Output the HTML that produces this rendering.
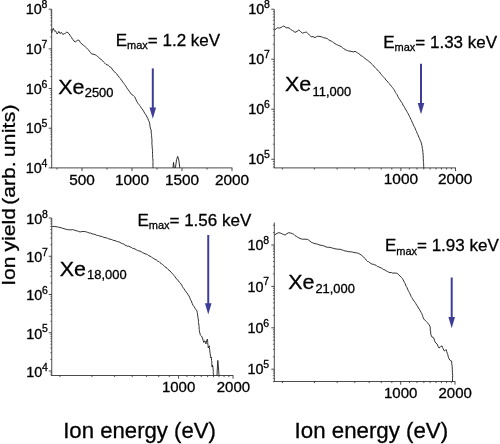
<!DOCTYPE html>
<html><head><meta charset="utf-8"><title>Ion energy spectra</title>
<style>
html,body{margin:0;padding:0;background:#fff;}
svg{display:block;font-family:"Liberation Sans",sans-serif;fill:#000;}
</style></head><body>
<svg width="500" height="444" viewBox="0 0 500 444">
<rect width="500" height="444" fill="#fff"/>
<line x1="51.70" y1="9.20" x2="51.70" y2="167.90" stroke="#2a2a2a" stroke-width="0.85"/>
<line x1="48.70" y1="167.88" x2="51.70" y2="167.88" stroke="#2a2a2a" stroke-width="0.85"/>
<line x1="50.30" y1="155.94" x2="51.70" y2="155.94" stroke="#2a2a2a" stroke-width="0.7"/>
<line x1="50.30" y1="148.95" x2="51.70" y2="148.95" stroke="#2a2a2a" stroke-width="0.7"/>
<line x1="50.30" y1="144.00" x2="51.70" y2="144.00" stroke="#2a2a2a" stroke-width="0.7"/>
<line x1="50.30" y1="140.15" x2="51.70" y2="140.15" stroke="#2a2a2a" stroke-width="0.7"/>
<line x1="50.30" y1="137.01" x2="51.70" y2="137.01" stroke="#2a2a2a" stroke-width="0.7"/>
<line x1="50.30" y1="134.35" x2="51.70" y2="134.35" stroke="#2a2a2a" stroke-width="0.7"/>
<line x1="50.30" y1="132.05" x2="51.70" y2="132.05" stroke="#2a2a2a" stroke-width="0.7"/>
<line x1="50.30" y1="130.03" x2="51.70" y2="130.03" stroke="#2a2a2a" stroke-width="0.7"/>
<line x1="48.70" y1="128.21" x2="51.70" y2="128.21" stroke="#2a2a2a" stroke-width="0.85"/>
<line x1="50.30" y1="116.27" x2="51.70" y2="116.27" stroke="#2a2a2a" stroke-width="0.7"/>
<line x1="50.30" y1="109.28" x2="51.70" y2="109.28" stroke="#2a2a2a" stroke-width="0.7"/>
<line x1="50.30" y1="104.33" x2="51.70" y2="104.33" stroke="#2a2a2a" stroke-width="0.7"/>
<line x1="50.30" y1="100.48" x2="51.70" y2="100.48" stroke="#2a2a2a" stroke-width="0.7"/>
<line x1="50.30" y1="97.34" x2="51.70" y2="97.34" stroke="#2a2a2a" stroke-width="0.7"/>
<line x1="50.30" y1="94.68" x2="51.70" y2="94.68" stroke="#2a2a2a" stroke-width="0.7"/>
<line x1="50.30" y1="92.38" x2="51.70" y2="92.38" stroke="#2a2a2a" stroke-width="0.7"/>
<line x1="50.30" y1="90.36" x2="51.70" y2="90.36" stroke="#2a2a2a" stroke-width="0.7"/>
<line x1="48.70" y1="88.54" x2="51.70" y2="88.54" stroke="#2a2a2a" stroke-width="0.85"/>
<line x1="50.30" y1="76.60" x2="51.70" y2="76.60" stroke="#2a2a2a" stroke-width="0.7"/>
<line x1="50.30" y1="69.61" x2="51.70" y2="69.61" stroke="#2a2a2a" stroke-width="0.7"/>
<line x1="50.30" y1="64.66" x2="51.70" y2="64.66" stroke="#2a2a2a" stroke-width="0.7"/>
<line x1="50.30" y1="60.81" x2="51.70" y2="60.81" stroke="#2a2a2a" stroke-width="0.7"/>
<line x1="50.30" y1="57.67" x2="51.70" y2="57.67" stroke="#2a2a2a" stroke-width="0.7"/>
<line x1="50.30" y1="55.01" x2="51.70" y2="55.01" stroke="#2a2a2a" stroke-width="0.7"/>
<line x1="50.30" y1="52.71" x2="51.70" y2="52.71" stroke="#2a2a2a" stroke-width="0.7"/>
<line x1="50.30" y1="50.69" x2="51.70" y2="50.69" stroke="#2a2a2a" stroke-width="0.7"/>
<line x1="48.70" y1="48.87" x2="51.70" y2="48.87" stroke="#2a2a2a" stroke-width="0.85"/>
<line x1="50.30" y1="36.93" x2="51.70" y2="36.93" stroke="#2a2a2a" stroke-width="0.7"/>
<line x1="50.30" y1="29.94" x2="51.70" y2="29.94" stroke="#2a2a2a" stroke-width="0.7"/>
<line x1="50.30" y1="24.99" x2="51.70" y2="24.99" stroke="#2a2a2a" stroke-width="0.7"/>
<line x1="50.30" y1="21.14" x2="51.70" y2="21.14" stroke="#2a2a2a" stroke-width="0.7"/>
<line x1="50.30" y1="18.00" x2="51.70" y2="18.00" stroke="#2a2a2a" stroke-width="0.7"/>
<line x1="50.30" y1="15.34" x2="51.70" y2="15.34" stroke="#2a2a2a" stroke-width="0.7"/>
<line x1="50.30" y1="13.04" x2="51.70" y2="13.04" stroke="#2a2a2a" stroke-width="0.7"/>
<line x1="50.30" y1="11.02" x2="51.70" y2="11.02" stroke="#2a2a2a" stroke-width="0.7"/>
<line x1="48.70" y1="9.20" x2="51.70" y2="9.20" stroke="#2a2a2a" stroke-width="0.85"/>
<text transform="translate(41.90 14.40) scale(1.03 1)" font-size="14" text-anchor="end" stroke="#000" stroke-width="0.3">10</text>
<text transform="translate(41.60 8.20) scale(1.0 1)" font-size="10.5" text-anchor="start" stroke="#000" stroke-width="0.3">8</text>
<text transform="translate(41.90 54.07) scale(1.03 1)" font-size="14" text-anchor="end" stroke="#000" stroke-width="0.3">10</text>
<text transform="translate(41.60 47.87) scale(1.0 1)" font-size="10.5" text-anchor="start" stroke="#000" stroke-width="0.3">7</text>
<text transform="translate(41.90 93.74) scale(1.03 1)" font-size="14" text-anchor="end" stroke="#000" stroke-width="0.3">10</text>
<text transform="translate(41.60 87.54) scale(1.0 1)" font-size="10.5" text-anchor="start" stroke="#000" stroke-width="0.3">6</text>
<text transform="translate(41.90 133.41) scale(1.03 1)" font-size="14" text-anchor="end" stroke="#000" stroke-width="0.3">10</text>
<text transform="translate(41.60 127.21) scale(1.0 1)" font-size="10.5" text-anchor="start" stroke="#000" stroke-width="0.3">5</text>
<text transform="translate(41.90 173.08) scale(1.03 1)" font-size="14" text-anchor="end" stroke="#000" stroke-width="0.3">10</text>
<text transform="translate(41.60 166.88) scale(1.0 1)" font-size="10.5" text-anchor="start" stroke="#000" stroke-width="0.3">4</text>
<line x1="51.20" y1="167.90" x2="232.30" y2="167.90" stroke="#2a2a2a" stroke-width="0.85"/>
<line x1="57.00" y1="167.90" x2="57.00" y2="169.50" stroke="#2a2a2a" stroke-width="0.85"/>
<line x1="82.00" y1="167.90" x2="82.00" y2="171.10" stroke="#2a2a2a" stroke-width="0.85"/>
<line x1="107.00" y1="167.90" x2="107.00" y2="169.50" stroke="#2a2a2a" stroke-width="0.85"/>
<line x1="132.00" y1="167.90" x2="132.00" y2="171.10" stroke="#2a2a2a" stroke-width="0.85"/>
<line x1="157.00" y1="167.90" x2="157.00" y2="169.50" stroke="#2a2a2a" stroke-width="0.85"/>
<line x1="182.00" y1="167.90" x2="182.00" y2="171.10" stroke="#2a2a2a" stroke-width="0.85"/>
<line x1="207.00" y1="167.90" x2="207.00" y2="169.50" stroke="#2a2a2a" stroke-width="0.85"/>
<line x1="232.00" y1="167.90" x2="232.00" y2="171.10" stroke="#2a2a2a" stroke-width="0.85"/>
<text transform="translate(82.00 184.80) scale(1.025 1)" font-size="15" text-anchor="middle" stroke="#000" stroke-width="0.3">500</text>
<text transform="translate(132.00 184.80) scale(1.025 1)" font-size="15" text-anchor="middle" stroke="#000" stroke-width="0.3">1000</text>
<text transform="translate(182.00 184.80) scale(1.025 1)" font-size="15" text-anchor="middle" stroke="#000" stroke-width="0.3">1500</text>
<text transform="translate(232.00 184.80) scale(1.025 1)" font-size="15" text-anchor="middle" stroke="#000" stroke-width="0.3">2000</text>
<polyline points="51.7,33.0 52.3,30.5 53.3,28.3 54.2,30.7 54.8,31.1 55.6,30.8 56.4,32.5 57.2,34.0 58.0,33.0 58.8,31.4 59.9,33.4 61.5,32.4 62.8,34.4 64.5,33.6 65.7,33.1 66.8,32.0 68.0,32.8 69.2,33.9 70.0,35.3 70.7,36.3 71.5,37.4 72.3,39.0 73.2,39.6 74.0,41.2 75.6,41.8 77.2,40.4 78.8,40.0 79.6,41.2 80.4,42.7 82.0,44.0 83.2,45.1 84.4,46.1 85.6,47.0 86.8,48.2 88.0,49.4 89.2,50.9 90.4,52.3 91.6,53.9 94.0,54.4 95.2,54.8 96.4,55.5 97.6,56.5 98.8,57.5 100.0,58.7 101.2,59.5 102.4,60.5 103.6,62.0 104.8,63.1 106.0,64.4 107.2,64.9 108.4,65.3 109.6,66.7 110.8,67.2 112.0,68.9 113.2,70.6 114.4,71.5 115.6,73.0 116.8,74.0 118.0,75.7 119.2,77.3 120.4,78.6 121.3,80.0 122.1,80.9 123.0,82.3 123.9,83.5 124.7,84.6 125.6,85.8 126.5,87.4 127.5,88.9 128.4,90.0 129.2,91.3 130.0,92.1 130.8,93.7 132.8,95.1 133.8,96.2 134.8,97.0 135.4,98.2 136.0,99.7 136.6,101.2 137.2,102.1 138.0,103.4 138.8,104.3 139.6,105.4 140.4,106.4 141.2,107.9 142.0,108.6 143.0,110.2 144.0,111.9 145.0,113.8 146.0,114.9 146.9,116.9 147.8,118.6 148.5,120.3 149.2,121.8 149.7,123.3 149.8,125.0 150.1,126.5 150.3,128.0 150.9,129.5 151.3,131.0 151.2,132.7 151.5,134.4 151.6,135.9 151.7,137.5 151.9,139.0 152.0,140.7 151.9,142.3 151.9,144.0 152.1,145.6 152.2,147.2 152.3,148.8 152.6,150.4 152.5,151.8 152.5,153.1 152.6,154.5 152.7,155.9 152.5,157.3 152.9,158.6 152.9,160.0 153.0,161.3 153.0,162.6 152.9,163.9 153.0,165.3 152.9,166.6 153.1,167.9" fill="none" stroke="#1a1a1a" stroke-width="0.9" stroke-linejoin="round"/>
<polyline points="173.0,167.9 173.5,162.4 174.2,167.9" fill="none" stroke="#1a1a1a" stroke-width="0.9" stroke-linejoin="round"/>
<polyline points="175.4,167.9 176.6,159.5 177.7,156.4 178.8,160.0 179.8,167.9" fill="none" stroke="#1a1a1a" stroke-width="0.9" stroke-linejoin="round"/>
<line x1="152.80" y1="68.40" x2="152.80" y2="108.50" stroke="#3d3d99" stroke-width="2"/>
<polygon points="149.50,107.50 156.10,107.50 152.80,118.80" fill="#3d3d99"/>
<text x="115.7" y="46.1" font-size="17" stroke="#000" stroke-width="0.3">E<tspan font-size="11" dy="3.2">max</tspan><tspan dy="-3.2">= 1.2 keV</tspan></text>
<text transform="translate(58.2 93.5) scale(1.09 1)" font-size="19.7" stroke="#000" stroke-width="0.3">Xe</text>
<text transform="translate(84.7 97.0) scale(1.06 1)" font-size="12.2" stroke="#000" stroke-width="0.3">2500</text>
<line x1="274.25" y1="9.25" x2="274.25" y2="167.90" stroke="#2a2a2a" stroke-width="0.85"/>
<line x1="272.85" y1="167.00" x2="274.25" y2="167.00" stroke="#2a2a2a" stroke-width="0.7"/>
<line x1="272.85" y1="164.10" x2="274.25" y2="164.10" stroke="#2a2a2a" stroke-width="0.7"/>
<line x1="272.85" y1="161.54" x2="274.25" y2="161.54" stroke="#2a2a2a" stroke-width="0.7"/>
<line x1="271.25" y1="159.25" x2="274.25" y2="159.25" stroke="#2a2a2a" stroke-width="0.85"/>
<line x1="272.85" y1="144.20" x2="274.25" y2="144.20" stroke="#2a2a2a" stroke-width="0.7"/>
<line x1="272.85" y1="135.39" x2="274.25" y2="135.39" stroke="#2a2a2a" stroke-width="0.7"/>
<line x1="272.85" y1="129.15" x2="274.25" y2="129.15" stroke="#2a2a2a" stroke-width="0.7"/>
<line x1="272.85" y1="124.30" x2="274.25" y2="124.30" stroke="#2a2a2a" stroke-width="0.7"/>
<line x1="272.85" y1="120.34" x2="274.25" y2="120.34" stroke="#2a2a2a" stroke-width="0.7"/>
<line x1="272.85" y1="117.00" x2="274.25" y2="117.00" stroke="#2a2a2a" stroke-width="0.7"/>
<line x1="272.85" y1="114.10" x2="274.25" y2="114.10" stroke="#2a2a2a" stroke-width="0.7"/>
<line x1="272.85" y1="111.54" x2="274.25" y2="111.54" stroke="#2a2a2a" stroke-width="0.7"/>
<line x1="271.25" y1="109.25" x2="274.25" y2="109.25" stroke="#2a2a2a" stroke-width="0.85"/>
<line x1="272.85" y1="94.20" x2="274.25" y2="94.20" stroke="#2a2a2a" stroke-width="0.7"/>
<line x1="272.85" y1="85.39" x2="274.25" y2="85.39" stroke="#2a2a2a" stroke-width="0.7"/>
<line x1="272.85" y1="79.15" x2="274.25" y2="79.15" stroke="#2a2a2a" stroke-width="0.7"/>
<line x1="272.85" y1="74.30" x2="274.25" y2="74.30" stroke="#2a2a2a" stroke-width="0.7"/>
<line x1="272.85" y1="70.34" x2="274.25" y2="70.34" stroke="#2a2a2a" stroke-width="0.7"/>
<line x1="272.85" y1="67.00" x2="274.25" y2="67.00" stroke="#2a2a2a" stroke-width="0.7"/>
<line x1="272.85" y1="64.10" x2="274.25" y2="64.10" stroke="#2a2a2a" stroke-width="0.7"/>
<line x1="272.85" y1="61.54" x2="274.25" y2="61.54" stroke="#2a2a2a" stroke-width="0.7"/>
<line x1="271.25" y1="59.25" x2="274.25" y2="59.25" stroke="#2a2a2a" stroke-width="0.85"/>
<line x1="272.85" y1="44.20" x2="274.25" y2="44.20" stroke="#2a2a2a" stroke-width="0.7"/>
<line x1="272.85" y1="35.39" x2="274.25" y2="35.39" stroke="#2a2a2a" stroke-width="0.7"/>
<line x1="272.85" y1="29.15" x2="274.25" y2="29.15" stroke="#2a2a2a" stroke-width="0.7"/>
<line x1="272.85" y1="24.30" x2="274.25" y2="24.30" stroke="#2a2a2a" stroke-width="0.7"/>
<line x1="272.85" y1="20.34" x2="274.25" y2="20.34" stroke="#2a2a2a" stroke-width="0.7"/>
<line x1="272.85" y1="17.00" x2="274.25" y2="17.00" stroke="#2a2a2a" stroke-width="0.7"/>
<line x1="272.85" y1="14.10" x2="274.25" y2="14.10" stroke="#2a2a2a" stroke-width="0.7"/>
<line x1="272.85" y1="11.54" x2="274.25" y2="11.54" stroke="#2a2a2a" stroke-width="0.7"/>
<line x1="271.25" y1="9.25" x2="274.25" y2="9.25" stroke="#2a2a2a" stroke-width="0.85"/>
<text transform="translate(264.20 14.45) scale(1.03 1)" font-size="14" text-anchor="end" stroke="#000" stroke-width="0.3">10</text>
<text transform="translate(263.90 8.25) scale(1.0 1)" font-size="10.5" text-anchor="start" stroke="#000" stroke-width="0.3">8</text>
<text transform="translate(264.20 64.45) scale(1.03 1)" font-size="14" text-anchor="end" stroke="#000" stroke-width="0.3">10</text>
<text transform="translate(263.90 58.25) scale(1.0 1)" font-size="10.5" text-anchor="start" stroke="#000" stroke-width="0.3">7</text>
<text transform="translate(264.20 114.45) scale(1.03 1)" font-size="14" text-anchor="end" stroke="#000" stroke-width="0.3">10</text>
<text transform="translate(263.90 108.25) scale(1.0 1)" font-size="10.5" text-anchor="start" stroke="#000" stroke-width="0.3">6</text>
<text transform="translate(264.20 164.45) scale(1.03 1)" font-size="14" text-anchor="end" stroke="#000" stroke-width="0.3">10</text>
<text transform="translate(263.90 158.25) scale(1.0 1)" font-size="10.5" text-anchor="start" stroke="#000" stroke-width="0.3">5</text>
<line x1="273.75" y1="167.90" x2="455.80" y2="167.90" stroke="#2a2a2a" stroke-width="0.85"/>
<line x1="282.40" y1="167.90" x2="282.40" y2="169.50" stroke="#2a2a2a" stroke-width="0.8"/>
<line x1="314.40" y1="167.90" x2="314.40" y2="169.50" stroke="#2a2a2a" stroke-width="0.8"/>
<line x1="337.10" y1="167.90" x2="337.10" y2="169.50" stroke="#2a2a2a" stroke-width="0.8"/>
<line x1="354.70" y1="167.90" x2="354.70" y2="169.50" stroke="#2a2a2a" stroke-width="0.8"/>
<line x1="369.10" y1="167.90" x2="369.10" y2="169.50" stroke="#2a2a2a" stroke-width="0.8"/>
<line x1="381.25" y1="167.90" x2="381.25" y2="169.50" stroke="#2a2a2a" stroke-width="0.8"/>
<line x1="391.80" y1="167.90" x2="391.80" y2="169.50" stroke="#2a2a2a" stroke-width="0.8"/>
<line x1="409.40" y1="167.90" x2="409.40" y2="169.50" stroke="#2a2a2a" stroke-width="0.8"/>
<line x1="416.95" y1="167.90" x2="416.95" y2="169.50" stroke="#2a2a2a" stroke-width="0.8"/>
<line x1="423.80" y1="167.90" x2="423.80" y2="169.50" stroke="#2a2a2a" stroke-width="0.8"/>
<line x1="430.10" y1="167.90" x2="430.10" y2="169.50" stroke="#2a2a2a" stroke-width="0.8"/>
<line x1="436.00" y1="167.90" x2="436.00" y2="169.50" stroke="#2a2a2a" stroke-width="0.8"/>
<line x1="441.45" y1="167.90" x2="441.45" y2="169.50" stroke="#2a2a2a" stroke-width="0.8"/>
<line x1="446.55" y1="167.90" x2="446.55" y2="169.50" stroke="#2a2a2a" stroke-width="0.8"/>
<line x1="451.35" y1="167.90" x2="451.35" y2="169.50" stroke="#2a2a2a" stroke-width="0.8"/>
<line x1="400.90" y1="167.90" x2="400.90" y2="171.10" stroke="#2a2a2a" stroke-width="0.85"/>
<line x1="455.50" y1="167.90" x2="455.50" y2="171.10" stroke="#2a2a2a" stroke-width="0.85"/>
<text transform="translate(400.90 183.90) scale(1.03 1)" font-size="15" text-anchor="middle" stroke="#000" stroke-width="0.3">1000</text>
<text transform="translate(455.20 183.90) scale(1.03 1)" font-size="15" text-anchor="middle" stroke="#000" stroke-width="0.3">2000</text>
<polyline points="274.4,30.4 275.0,29.7 276.2,28.7 277.5,27.8 279.5,28.0 281.2,27.4 282.5,26.6 283.8,26.0 285.0,26.9 286.2,27.8 288.0,27.7 290.0,28.5 291.2,29.8 292.5,30.6 293.8,31.3 295.0,32.4 297.0,31.4 298.8,29.9 300.5,31.6 302.5,33.2 304.4,32.5 306.2,32.0 307.5,33.2 308.8,34.3 310.0,35.5 311.2,36.9 313.0,36.5 315.0,37.7 316.2,36.8 317.5,36.3 320.0,36.5 321.3,36.8 322.5,37.1 323.8,37.8 325.6,38.0 327.5,38.8 328.7,39.8 330.0,40.5 331.2,41.1 332.5,41.8 333.7,42.8 335.0,43.6 336.3,44.5 337.5,44.9 338.8,45.6 340.0,46.0 341.3,46.6 342.5,47.7 343.7,48.6 345.0,49.4 346.2,50.2 347.5,50.6 348.7,51.0 350.0,51.1 351.9,51.6 353.8,51.9 355.0,51.3 356.2,52.0 357.5,52.9 358.8,53.7 360.0,54.7 361.2,55.7 362.5,56.2 363.7,57.5 365.0,58.5 366.2,59.5 367.5,60.2 368.7,61.2 370.0,62.3 371.3,63.5 372.5,64.7 373.8,66.1 374.7,67.2 375.6,68.2 376.6,69.0 377.5,70.1 378.4,71.2 379.4,71.9 380.3,73.2 381.2,74.4 382.1,75.5 383.1,76.6 384.1,77.6 385.0,78.6 385.9,80.0 386.9,80.8 387.9,82.1 388.8,83.3 389.7,84.1 390.6,85.2 391.6,86.6 392.5,87.6 393.2,88.5 394.0,89.6 394.7,90.8 395.5,92.5 396.2,93.6 397.0,94.5 397.7,96.2 398.5,97.6 399.2,98.8 400.0,99.9 400.8,101.2 401.5,102.2 402.3,103.3 403.0,105.1 403.8,106.1 404.5,107.3 405.3,108.9 406.0,109.9 406.8,111.4 407.5,112.7 408.2,113.7 408.9,115.1 409.5,116.5 410.2,117.8 410.9,119.4 411.5,120.6 412.1,122.1 412.8,123.3 413.4,125.1 414.1,126.2 414.8,127.6 415.4,129.1 416.0,130.6 416.6,131.7 417.2,133.4 417.8,134.5 418.4,136.0 419.0,137.5 419.6,138.7 420.4,140.7 421.2,142.3 421.4,144.0 422.0,145.5 422.1,147.0 422.4,148.4 422.7,149.8 422.8,151.1 422.9,152.5 423.1,154.0 423.2,155.5 423.3,157.0 423.2,158.5 423.4,160.0 423.4,161.3 423.4,162.6 423.7,163.9 423.6,165.3 423.7,166.6 423.8,167.9" fill="none" stroke="#1a1a1a" stroke-width="0.9" stroke-linejoin="round"/>
<line x1="421.00" y1="63.75" x2="421.00" y2="104.00" stroke="#3d3d99" stroke-width="2"/>
<polygon points="417.70,103.00 424.30,103.00 421.00,114.30" fill="#3d3d99"/>
<text x="383.2" y="47.8" font-size="17" stroke="#000" stroke-width="0.3">E<tspan font-size="11" dy="3.2">max</tspan><tspan dy="-3.2">= 1.33 keV</tspan></text>
<text transform="translate(285 91.4) scale(1.09 1)" font-size="19.7" stroke="#000" stroke-width="0.3">Xe</text>
<text transform="translate(312.6 95.5) scale(1.06 1)" font-size="12.2" stroke="#000" stroke-width="0.3">11,000</text>
<line x1="51.75" y1="218.00" x2="51.75" y2="375.50" stroke="#2a2a2a" stroke-width="0.85"/>
<line x1="50.35" y1="374.71" x2="51.75" y2="374.71" stroke="#2a2a2a" stroke-width="0.7"/>
<line x1="50.35" y1="372.75" x2="51.75" y2="372.75" stroke="#2a2a2a" stroke-width="0.7"/>
<line x1="48.75" y1="371.00" x2="51.75" y2="371.00" stroke="#2a2a2a" stroke-width="0.85"/>
<line x1="50.35" y1="359.49" x2="51.75" y2="359.49" stroke="#2a2a2a" stroke-width="0.7"/>
<line x1="50.35" y1="352.75" x2="51.75" y2="352.75" stroke="#2a2a2a" stroke-width="0.7"/>
<line x1="50.35" y1="347.97" x2="51.75" y2="347.97" stroke="#2a2a2a" stroke-width="0.7"/>
<line x1="50.35" y1="344.26" x2="51.75" y2="344.26" stroke="#2a2a2a" stroke-width="0.7"/>
<line x1="50.35" y1="341.24" x2="51.75" y2="341.24" stroke="#2a2a2a" stroke-width="0.7"/>
<line x1="50.35" y1="338.67" x2="51.75" y2="338.67" stroke="#2a2a2a" stroke-width="0.7"/>
<line x1="50.35" y1="336.46" x2="51.75" y2="336.46" stroke="#2a2a2a" stroke-width="0.7"/>
<line x1="50.35" y1="334.50" x2="51.75" y2="334.50" stroke="#2a2a2a" stroke-width="0.7"/>
<line x1="48.75" y1="332.75" x2="51.75" y2="332.75" stroke="#2a2a2a" stroke-width="0.85"/>
<line x1="50.35" y1="321.24" x2="51.75" y2="321.24" stroke="#2a2a2a" stroke-width="0.7"/>
<line x1="50.35" y1="314.50" x2="51.75" y2="314.50" stroke="#2a2a2a" stroke-width="0.7"/>
<line x1="50.35" y1="309.72" x2="51.75" y2="309.72" stroke="#2a2a2a" stroke-width="0.7"/>
<line x1="50.35" y1="306.01" x2="51.75" y2="306.01" stroke="#2a2a2a" stroke-width="0.7"/>
<line x1="50.35" y1="302.99" x2="51.75" y2="302.99" stroke="#2a2a2a" stroke-width="0.7"/>
<line x1="50.35" y1="300.42" x2="51.75" y2="300.42" stroke="#2a2a2a" stroke-width="0.7"/>
<line x1="50.35" y1="298.21" x2="51.75" y2="298.21" stroke="#2a2a2a" stroke-width="0.7"/>
<line x1="50.35" y1="296.25" x2="51.75" y2="296.25" stroke="#2a2a2a" stroke-width="0.7"/>
<line x1="48.75" y1="294.50" x2="51.75" y2="294.50" stroke="#2a2a2a" stroke-width="0.85"/>
<line x1="50.35" y1="282.99" x2="51.75" y2="282.99" stroke="#2a2a2a" stroke-width="0.7"/>
<line x1="50.35" y1="276.25" x2="51.75" y2="276.25" stroke="#2a2a2a" stroke-width="0.7"/>
<line x1="50.35" y1="271.47" x2="51.75" y2="271.47" stroke="#2a2a2a" stroke-width="0.7"/>
<line x1="50.35" y1="267.76" x2="51.75" y2="267.76" stroke="#2a2a2a" stroke-width="0.7"/>
<line x1="50.35" y1="264.74" x2="51.75" y2="264.74" stroke="#2a2a2a" stroke-width="0.7"/>
<line x1="50.35" y1="262.17" x2="51.75" y2="262.17" stroke="#2a2a2a" stroke-width="0.7"/>
<line x1="50.35" y1="259.96" x2="51.75" y2="259.96" stroke="#2a2a2a" stroke-width="0.7"/>
<line x1="50.35" y1="258.00" x2="51.75" y2="258.00" stroke="#2a2a2a" stroke-width="0.7"/>
<line x1="48.75" y1="256.25" x2="51.75" y2="256.25" stroke="#2a2a2a" stroke-width="0.85"/>
<line x1="50.35" y1="244.74" x2="51.75" y2="244.74" stroke="#2a2a2a" stroke-width="0.7"/>
<line x1="50.35" y1="238.00" x2="51.75" y2="238.00" stroke="#2a2a2a" stroke-width="0.7"/>
<line x1="50.35" y1="233.22" x2="51.75" y2="233.22" stroke="#2a2a2a" stroke-width="0.7"/>
<line x1="50.35" y1="229.51" x2="51.75" y2="229.51" stroke="#2a2a2a" stroke-width="0.7"/>
<line x1="50.35" y1="226.49" x2="51.75" y2="226.49" stroke="#2a2a2a" stroke-width="0.7"/>
<line x1="50.35" y1="223.92" x2="51.75" y2="223.92" stroke="#2a2a2a" stroke-width="0.7"/>
<line x1="50.35" y1="221.71" x2="51.75" y2="221.71" stroke="#2a2a2a" stroke-width="0.7"/>
<line x1="50.35" y1="219.75" x2="51.75" y2="219.75" stroke="#2a2a2a" stroke-width="0.7"/>
<line x1="48.75" y1="218.00" x2="51.75" y2="218.00" stroke="#2a2a2a" stroke-width="0.85"/>
<text transform="translate(42.40 223.90) scale(1.03 1)" font-size="14" text-anchor="end" stroke="#000" stroke-width="0.3">10</text>
<text transform="translate(42.10 217.70) scale(1.0 1)" font-size="10.5" text-anchor="start" stroke="#000" stroke-width="0.3">8</text>
<text transform="translate(42.40 262.15) scale(1.03 1)" font-size="14" text-anchor="end" stroke="#000" stroke-width="0.3">10</text>
<text transform="translate(42.10 255.95) scale(1.0 1)" font-size="10.5" text-anchor="start" stroke="#000" stroke-width="0.3">7</text>
<text transform="translate(42.40 300.40) scale(1.03 1)" font-size="14" text-anchor="end" stroke="#000" stroke-width="0.3">10</text>
<text transform="translate(42.10 294.20) scale(1.0 1)" font-size="10.5" text-anchor="start" stroke="#000" stroke-width="0.3">6</text>
<text transform="translate(42.40 338.65) scale(1.03 1)" font-size="14" text-anchor="end" stroke="#000" stroke-width="0.3">10</text>
<text transform="translate(42.10 332.45) scale(1.0 1)" font-size="10.5" text-anchor="start" stroke="#000" stroke-width="0.3">5</text>
<text transform="translate(42.40 376.90) scale(1.03 1)" font-size="14" text-anchor="end" stroke="#000" stroke-width="0.3">10</text>
<text transform="translate(42.10 370.70) scale(1.0 1)" font-size="10.5" text-anchor="start" stroke="#000" stroke-width="0.3">4</text>
<line x1="51.25" y1="375.50" x2="233.30" y2="375.50" stroke="#2a2a2a" stroke-width="0.85"/>
<line x1="59.90" y1="375.50" x2="59.90" y2="377.10" stroke="#2a2a2a" stroke-width="0.8"/>
<line x1="91.90" y1="375.50" x2="91.90" y2="377.10" stroke="#2a2a2a" stroke-width="0.8"/>
<line x1="114.60" y1="375.50" x2="114.60" y2="377.10" stroke="#2a2a2a" stroke-width="0.8"/>
<line x1="132.20" y1="375.50" x2="132.20" y2="377.10" stroke="#2a2a2a" stroke-width="0.8"/>
<line x1="146.60" y1="375.50" x2="146.60" y2="377.10" stroke="#2a2a2a" stroke-width="0.8"/>
<line x1="158.75" y1="375.50" x2="158.75" y2="377.10" stroke="#2a2a2a" stroke-width="0.8"/>
<line x1="169.30" y1="375.50" x2="169.30" y2="377.10" stroke="#2a2a2a" stroke-width="0.8"/>
<line x1="186.90" y1="375.50" x2="186.90" y2="377.10" stroke="#2a2a2a" stroke-width="0.8"/>
<line x1="194.45" y1="375.50" x2="194.45" y2="377.10" stroke="#2a2a2a" stroke-width="0.8"/>
<line x1="201.30" y1="375.50" x2="201.30" y2="377.10" stroke="#2a2a2a" stroke-width="0.8"/>
<line x1="207.60" y1="375.50" x2="207.60" y2="377.10" stroke="#2a2a2a" stroke-width="0.8"/>
<line x1="213.50" y1="375.50" x2="213.50" y2="377.10" stroke="#2a2a2a" stroke-width="0.8"/>
<line x1="218.95" y1="375.50" x2="218.95" y2="377.10" stroke="#2a2a2a" stroke-width="0.8"/>
<line x1="224.05" y1="375.50" x2="224.05" y2="377.10" stroke="#2a2a2a" stroke-width="0.8"/>
<line x1="228.85" y1="375.50" x2="228.85" y2="377.10" stroke="#2a2a2a" stroke-width="0.8"/>
<line x1="178.60" y1="375.50" x2="178.60" y2="378.70" stroke="#2a2a2a" stroke-width="0.85"/>
<line x1="233.00" y1="375.50" x2="233.00" y2="378.70" stroke="#2a2a2a" stroke-width="0.85"/>
<text transform="translate(178.60 391.60) scale(1.0 1)" font-size="15" text-anchor="middle" stroke="#000" stroke-width="0.3">1000</text>
<text transform="translate(233.40 391.60) scale(1.0 1)" font-size="15" text-anchor="middle" stroke="#000" stroke-width="0.3">2000</text>
<polyline points="51.9,226.1 52.5,226.5 54.2,226.4 56.0,226.7 57.3,226.9 58.7,227.2 60.0,227.6 61.3,227.8 62.7,228.3 64.0,228.6 65.8,229.3 67.5,229.6 69.2,229.8 71.0,229.9 72.3,229.6 73.7,229.9 75.0,230.3 76.2,230.8 77.5,231.0 78.8,231.4 80.0,232.0 81.5,231.6 83.0,231.5 84.6,231.5 86.2,231.9 87.7,232.4 89.1,233.0 90.5,233.0 92.0,233.8 93.5,234.2 95.0,234.3 96.2,235.1 97.5,235.5 98.8,235.5 100.0,236.3 101.2,236.3 102.5,236.7 103.8,237.4 105.0,237.7 106.2,237.7 107.5,238.3 108.8,238.8 110.0,239.2 111.2,239.4 112.5,239.9 113.8,240.5 115.0,240.5 116.2,241.2 117.5,241.6 118.8,241.8 120.0,242.4 121.2,243.2 122.5,243.7 123.8,244.0 125.0,245.2 126.2,245.6 127.5,246.2 128.8,246.2 130.0,246.9 131.2,247.3 132.5,248.3 133.8,248.5 135.0,249.0 136.2,249.7 137.5,250.5 138.8,250.9 140.0,251.1 141.2,251.7 142.5,252.7 143.8,253.1 145.0,253.8 146.2,254.1 147.5,254.7 148.8,255.7 150.0,256.2 151.2,256.7 152.5,258.0 153.8,258.5 155.0,259.4 156.2,259.8 157.5,261.1 158.8,261.4 160.0,262.7 161.2,263.5 162.5,264.5 163.8,265.6 165.0,266.9 166.0,267.4 167.0,268.2 168.0,269.4 169.0,270.2 170.0,271.0 171.0,272.1 172.0,273.2 173.0,274.3 174.0,275.5 174.9,276.6 175.8,278.0 176.6,278.8 177.5,280.0 178.4,280.9 179.2,282.0 180.1,282.9 181.0,284.1 181.8,285.1 182.5,286.7 183.2,287.8 184.0,288.8 185.0,290.3 186.0,291.9 187.0,292.8 188.0,294.7 189.0,296.0 189.7,297.5 190.3,299.2 191.0,300.4 191.7,302.0 192.3,303.6 193.0,305.3 194.0,306.4 195.0,308.2 196.0,309.6 197.0,311.1 197.2,312.3 197.5,313.7 197.6,315.0 197.9,316.7 198.0,318.3 198.5,320.0 198.4,321.3 198.5,322.7 198.7,324.0 199.0,325.3 199.1,326.7 199.1,328.0 199.2,329.3 199.4,330.7 199.6,332.0 200.0,333.5 200.3,335.0 201.5,336.0 202.4,337.9 203.2,340.5 203.8,342.4 204.3,341.2 205.0,340.8 205.5,342.8 206.0,343.9 206.3,342.5 206.6,341.0 207.4,339.0 207.6,340.7 207.7,342.3 207.8,344.0 208.1,345.3 208.1,346.7 208.3,348.0 208.9,346.3 209.4,345.9 209.4,347.5 209.5,349.0 209.8,350.5 209.9,352.0 210.2,353.5 210.3,355.0 210.5,356.5 210.7,358.0 211.0,357.3 211.4,357.2 211.5,358.7 211.5,360.3 211.9,362.0 211.7,363.7 212.0,365.3 212.1,367.0 212.1,365.6 212.6,365.2 212.9,366.7 213.0,368.3 213.2,370.0 213.3,371.4 213.2,372.8 213.5,374.1 213.6,375.5" fill="none" stroke="#1a1a1a" stroke-width="0.9" stroke-linejoin="round"/>
<polyline points="217.0,375.5 217.4,367.0 217.8,360.4 218.4,367.0 219.0,375.5" fill="none" stroke="#1a1a1a" stroke-width="0.9" stroke-linejoin="round"/>
<line x1="208.25" y1="235.00" x2="208.25" y2="304.20" stroke="#3d3d99" stroke-width="2"/>
<polygon points="204.95,303.20 211.55,303.20 208.25,314.50" fill="#3d3d99"/>
<text x="137.4" y="226.1" font-size="17" stroke="#000" stroke-width="0.3">E<tspan font-size="11" dy="3.2">max</tspan><tspan dy="-3.2">= 1.56 keV</tspan></text>
<text transform="translate(59.8 275.5) scale(1.09 1)" font-size="19.7" stroke="#000" stroke-width="0.3">Xe</text>
<text transform="translate(87.1 279.4) scale(1.06 1)" font-size="12.2" stroke="#000" stroke-width="0.3">18,000</text>
<line x1="274.30" y1="222.50" x2="274.30" y2="381.50" stroke="#2a2a2a" stroke-width="0.85"/>
<line x1="272.90" y1="381.66" x2="274.30" y2="381.66" stroke="#2a2a2a" stroke-width="0.7"/>
<line x1="272.90" y1="378.38" x2="274.30" y2="378.38" stroke="#2a2a2a" stroke-width="0.7"/>
<line x1="272.90" y1="375.61" x2="274.30" y2="375.61" stroke="#2a2a2a" stroke-width="0.7"/>
<line x1="272.90" y1="373.21" x2="274.30" y2="373.21" stroke="#2a2a2a" stroke-width="0.7"/>
<line x1="272.90" y1="371.09" x2="274.30" y2="371.09" stroke="#2a2a2a" stroke-width="0.7"/>
<line x1="271.30" y1="369.20" x2="274.30" y2="369.20" stroke="#2a2a2a" stroke-width="0.85"/>
<line x1="272.90" y1="356.74" x2="274.30" y2="356.74" stroke="#2a2a2a" stroke-width="0.7"/>
<line x1="272.90" y1="349.45" x2="274.30" y2="349.45" stroke="#2a2a2a" stroke-width="0.7"/>
<line x1="272.90" y1="344.27" x2="274.30" y2="344.27" stroke="#2a2a2a" stroke-width="0.7"/>
<line x1="272.90" y1="340.26" x2="274.30" y2="340.26" stroke="#2a2a2a" stroke-width="0.7"/>
<line x1="272.90" y1="336.98" x2="274.30" y2="336.98" stroke="#2a2a2a" stroke-width="0.7"/>
<line x1="272.90" y1="334.21" x2="274.30" y2="334.21" stroke="#2a2a2a" stroke-width="0.7"/>
<line x1="272.90" y1="331.81" x2="274.30" y2="331.81" stroke="#2a2a2a" stroke-width="0.7"/>
<line x1="272.90" y1="329.69" x2="274.30" y2="329.69" stroke="#2a2a2a" stroke-width="0.7"/>
<line x1="271.30" y1="327.80" x2="274.30" y2="327.80" stroke="#2a2a2a" stroke-width="0.85"/>
<line x1="272.90" y1="315.34" x2="274.30" y2="315.34" stroke="#2a2a2a" stroke-width="0.7"/>
<line x1="272.90" y1="308.05" x2="274.30" y2="308.05" stroke="#2a2a2a" stroke-width="0.7"/>
<line x1="272.90" y1="302.87" x2="274.30" y2="302.87" stroke="#2a2a2a" stroke-width="0.7"/>
<line x1="272.90" y1="298.86" x2="274.30" y2="298.86" stroke="#2a2a2a" stroke-width="0.7"/>
<line x1="272.90" y1="295.58" x2="274.30" y2="295.58" stroke="#2a2a2a" stroke-width="0.7"/>
<line x1="272.90" y1="292.81" x2="274.30" y2="292.81" stroke="#2a2a2a" stroke-width="0.7"/>
<line x1="272.90" y1="290.41" x2="274.30" y2="290.41" stroke="#2a2a2a" stroke-width="0.7"/>
<line x1="272.90" y1="288.29" x2="274.30" y2="288.29" stroke="#2a2a2a" stroke-width="0.7"/>
<line x1="271.30" y1="286.40" x2="274.30" y2="286.40" stroke="#2a2a2a" stroke-width="0.85"/>
<line x1="272.90" y1="273.94" x2="274.30" y2="273.94" stroke="#2a2a2a" stroke-width="0.7"/>
<line x1="272.90" y1="266.65" x2="274.30" y2="266.65" stroke="#2a2a2a" stroke-width="0.7"/>
<line x1="272.90" y1="261.47" x2="274.30" y2="261.47" stroke="#2a2a2a" stroke-width="0.7"/>
<line x1="272.90" y1="257.46" x2="274.30" y2="257.46" stroke="#2a2a2a" stroke-width="0.7"/>
<line x1="272.90" y1="254.18" x2="274.30" y2="254.18" stroke="#2a2a2a" stroke-width="0.7"/>
<line x1="272.90" y1="251.41" x2="274.30" y2="251.41" stroke="#2a2a2a" stroke-width="0.7"/>
<line x1="272.90" y1="249.01" x2="274.30" y2="249.01" stroke="#2a2a2a" stroke-width="0.7"/>
<line x1="272.90" y1="246.89" x2="274.30" y2="246.89" stroke="#2a2a2a" stroke-width="0.7"/>
<line x1="271.30" y1="245.00" x2="274.30" y2="245.00" stroke="#2a2a2a" stroke-width="0.85"/>
<line x1="272.90" y1="232.54" x2="274.30" y2="232.54" stroke="#2a2a2a" stroke-width="0.7"/>
<line x1="272.90" y1="225.25" x2="274.30" y2="225.25" stroke="#2a2a2a" stroke-width="0.7"/>
<text transform="translate(263.60 250.20) scale(1.03 1)" font-size="14" text-anchor="end" stroke="#000" stroke-width="0.3">10</text>
<text transform="translate(263.30 244.00) scale(1.0 1)" font-size="10.5" text-anchor="start" stroke="#000" stroke-width="0.3">8</text>
<text transform="translate(263.60 291.60) scale(1.03 1)" font-size="14" text-anchor="end" stroke="#000" stroke-width="0.3">10</text>
<text transform="translate(263.30 285.40) scale(1.0 1)" font-size="10.5" text-anchor="start" stroke="#000" stroke-width="0.3">7</text>
<text transform="translate(263.60 333.00) scale(1.03 1)" font-size="14" text-anchor="end" stroke="#000" stroke-width="0.3">10</text>
<text transform="translate(263.30 326.80) scale(1.0 1)" font-size="10.5" text-anchor="start" stroke="#000" stroke-width="0.3">6</text>
<text transform="translate(263.60 374.40) scale(1.03 1)" font-size="14" text-anchor="end" stroke="#000" stroke-width="0.3">10</text>
<text transform="translate(263.30 368.20) scale(1.0 1)" font-size="10.5" text-anchor="start" stroke="#000" stroke-width="0.3">5</text>
<line x1="273.80" y1="381.50" x2="455.30" y2="381.50" stroke="#2a2a2a" stroke-width="0.85"/>
<line x1="282.45" y1="381.50" x2="282.45" y2="383.10" stroke="#2a2a2a" stroke-width="0.8"/>
<line x1="314.45" y1="381.50" x2="314.45" y2="383.10" stroke="#2a2a2a" stroke-width="0.8"/>
<line x1="337.15" y1="381.50" x2="337.15" y2="383.10" stroke="#2a2a2a" stroke-width="0.8"/>
<line x1="354.75" y1="381.50" x2="354.75" y2="383.10" stroke="#2a2a2a" stroke-width="0.8"/>
<line x1="369.15" y1="381.50" x2="369.15" y2="383.10" stroke="#2a2a2a" stroke-width="0.8"/>
<line x1="381.30" y1="381.50" x2="381.30" y2="383.10" stroke="#2a2a2a" stroke-width="0.8"/>
<line x1="391.85" y1="381.50" x2="391.85" y2="383.10" stroke="#2a2a2a" stroke-width="0.8"/>
<line x1="409.45" y1="381.50" x2="409.45" y2="383.10" stroke="#2a2a2a" stroke-width="0.8"/>
<line x1="417.00" y1="381.50" x2="417.00" y2="383.10" stroke="#2a2a2a" stroke-width="0.8"/>
<line x1="423.85" y1="381.50" x2="423.85" y2="383.10" stroke="#2a2a2a" stroke-width="0.8"/>
<line x1="430.15" y1="381.50" x2="430.15" y2="383.10" stroke="#2a2a2a" stroke-width="0.8"/>
<line x1="436.05" y1="381.50" x2="436.05" y2="383.10" stroke="#2a2a2a" stroke-width="0.8"/>
<line x1="441.50" y1="381.50" x2="441.50" y2="383.10" stroke="#2a2a2a" stroke-width="0.8"/>
<line x1="446.60" y1="381.50" x2="446.60" y2="383.10" stroke="#2a2a2a" stroke-width="0.8"/>
<line x1="451.40" y1="381.50" x2="451.40" y2="383.10" stroke="#2a2a2a" stroke-width="0.8"/>
<line x1="400.70" y1="381.50" x2="400.70" y2="384.70" stroke="#2a2a2a" stroke-width="0.85"/>
<line x1="455.00" y1="381.50" x2="455.00" y2="384.70" stroke="#2a2a2a" stroke-width="0.85"/>
<text transform="translate(400.70 397.80) scale(1.0 1)" font-size="15" text-anchor="middle" stroke="#000" stroke-width="0.3">1000</text>
<text transform="translate(455.20 397.80) scale(1.0 1)" font-size="15" text-anchor="middle" stroke="#000" stroke-width="0.3">2000</text>
<polyline points="274.5,234.8 275.0,234.7 277.0,233.4 278.8,232.7 280.5,233.1 282.5,234.0 283.8,234.5 285.0,235.1 287.0,233.6 288.8,232.7 290.5,233.0 292.5,233.7 293.8,234.3 295.0,235.6 296.2,236.2 297.5,237.1 298.8,237.8 300.0,238.5 301.2,238.9 302.5,239.2 305.0,239.2 307.5,239.4 308.8,240.2 310.0,241.2 311.2,242.2 312.5,242.7 315.0,243.7 316.2,243.9 317.5,244.2 320.0,245.1 322.5,245.6 324.2,246.0 326.0,246.9 327.3,247.3 328.7,247.3 330.0,247.4 331.7,247.9 333.3,248.3 335.0,248.8 336.7,249.0 338.3,249.3 340.0,249.2 341.7,249.8 343.3,250.3 345.0,251.0 346.7,251.1 348.3,251.7 350.0,251.7 351.3,251.9 352.7,252.1 354.0,252.5 355.8,252.8 357.5,253.1 358.8,253.5 360.0,254.3 361.2,255.0 362.3,256.0 363.4,256.8 364.5,258.2 365.5,258.9 366.5,260.5 367.5,261.5 368.7,261.7 369.8,262.7 371.0,263.6 372.3,264.2 373.7,264.4 375.0,264.9 376.3,265.5 377.5,266.6 378.8,266.8 380.0,267.6 381.3,268.0 382.5,268.8 383.7,269.7 385.0,269.9 386.2,271.0 387.5,271.4 388.7,272.2 390.0,272.6 391.3,272.5 392.7,273.1 394.0,273.0 395.8,273.1 397.5,273.5 398.8,274.9 400.0,276.0 401.2,277.3 402.5,278.5 403.1,279.8 403.8,281.0 404.4,282.5 405.0,283.2 405.6,285.0 406.2,286.3 406.9,287.2 407.5,289.0 408.1,290.2 408.8,291.6 409.4,292.6 410.0,293.9 410.6,295.1 411.2,296.7 411.9,297.6 412.5,298.7 413.3,300.0 414.2,301.2 415.0,302.3 415.8,303.6 416.7,305.2 417.5,306.1 418.4,308.0 419.2,309.0 420.2,310.7 421.2,312.5 421.9,313.8 422.5,315.4 423.1,317.4 423.8,319.0 425.5,320.8 426.5,321.6 427.5,322.7 429.0,324.7 430.0,326.3 430.3,328.1 430.2,330.0 430.7,331.9 430.7,333.8 431.4,335.8 432.0,337.1 432.8,337.3 433.6,337.7 434.5,340.2 435.0,341.8 436.0,343.2 437.0,343.9 438.0,346.1 439.0,348.1 440.5,346.7 442.0,345.9 442.6,347.6 443.2,348.9 444.4,351.0 445.4,350.1 446.4,349.8 446.7,351.5 447.2,353.1 447.8,354.6 448.1,356.1 448.5,357.5 449.1,359.0 450.3,360.5 451.6,361.0 451.7,362.8 451.9,364.6 452.1,366.3 452.3,368.0 452.3,369.5 452.4,371.0 452.4,372.5 452.5,374.0 452.7,375.5 452.6,377.0 452.5,378.5 452.5,380.0 452.6,381.5" fill="none" stroke="#1a1a1a" stroke-width="0.9" stroke-linejoin="round"/>
<line x1="451.70" y1="277.50" x2="451.70" y2="318.00" stroke="#3d3d99" stroke-width="2"/>
<polygon points="448.40,317.00 455.00,317.00 451.70,328.30" fill="#3d3d99"/>
<text x="384.9" y="251.3" font-size="17" stroke="#000" stroke-width="0.3">E<tspan font-size="11" dy="3.2">max</tspan><tspan dy="-3.2">= 1.93 keV</tspan></text>
<text transform="translate(288.2 288.7) scale(1.09 1)" font-size="19.7" stroke="#000" stroke-width="0.3">Xe</text>
<text transform="translate(315.40000000000003 292.5) scale(1.06 1)" font-size="12.2" stroke="#000" stroke-width="0.3">21,000</text>
<text transform="translate(63.20 438.30) scale(1.008 1)" font-size="22" text-anchor="start" stroke="#000" stroke-width="0.3">Ion energy (eV)</text>
<text transform="translate(294.60 438.20) scale(1.013 1)" font-size="22" text-anchor="start" stroke="#000" stroke-width="0.3">Ion energy (eV)</text>
<text transform="translate(14.8,285.8) rotate(-90) scale(1.117 1)" font-size="18.9" letter-spacing="0" stroke="#000" stroke-width="0.3">Ion</text>
<text transform="translate(14.8,251.45) rotate(-90) scale(1.117 1)" font-size="18.9" letter-spacing="0" stroke="#000" stroke-width="0.3">yield</text>
<text transform="translate(14.8,204.8) rotate(-90) scale(1.117 1)" font-size="18.9" letter-spacing="0" stroke="#000" stroke-width="0.3">(arb.</text>
<text transform="translate(14.8,157.2) rotate(-90) scale(1.117 1)" font-size="18.9" letter-spacing="0.2" stroke="#000" stroke-width="0.3">units)</text>
</svg>
</body></html>
